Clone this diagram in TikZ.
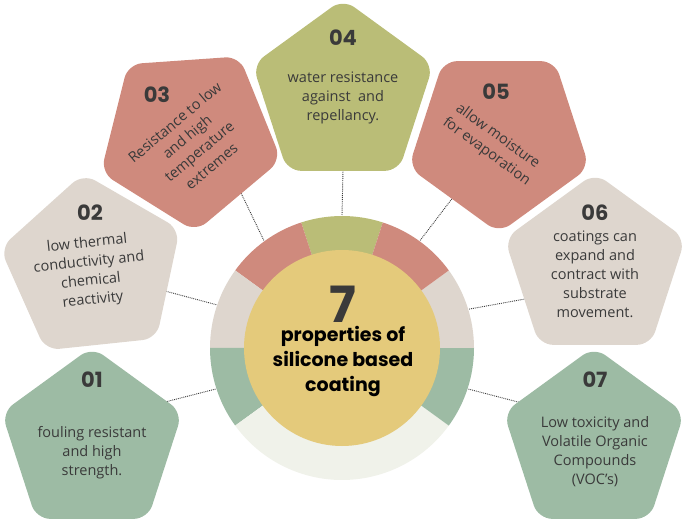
\documentclass[tikz,border=0pt]{standalone}
\usepackage{fontspec}
\setmainfont{Open Sans}
\newfontfamily\headfont{Poppins}
\usetikzlibrary{shapes.geometric,calc}

\definecolor{olive}{HTML}{BABD77}
\definecolor{rose}{HTML}{CF8A7D}
\definecolor{sand}{HTML}{DED6CE}
\definecolor{sage}{HTML}{9DBBA4}
\definecolor{pale}{HTML}{F0F2EA}
\definecolor{gold}{HTML}{E4CA7B}
\definecolor{ink}{HTML}{3A3A3A}

\begin{document}
\begin{tikzpicture}[x=1pt,y=1pt]
      \tikzset{Petal/.style = {regular polygon, regular polygon sides=5, minimum size=190pt, inner sep=0pt, rounded corners=14pt}}
      \tikzset{Num/.style = {font=\headfont\bfseries\fontsize{21}{21}\selectfont, text=ink}}
      \tikzset{Txt/.style = {align=center, font=\fontsize{14.5}{19}\selectfont, text=ink}}
      \tikzset{Link/.style = {densely dotted, line width=0.9pt, draw=ink, shorten >=-6pt}}

      \useasboundingbox (0,0) rectangle (685,525);
      \coordinate (Hub) at (342,177);

      % ring
      \foreach \a/\b/\col in {72/108/olive, 108/144/rose, 144/180/sand, 180/216/sage,
                              216/324/pale, 324/360/sage, 0/36/sand, 36/72/rose}
        \fill[\col] (Hub) -- ++(\a:132pt) arc[start angle=\a, end angle=\b, radius=132pt] -- cycle;
      \node[circle, fill=gold, minimum size=196pt, inner sep=0pt] (Core) at (Hub) {};
      \node[font=\headfont\bfseries\fontsize{50}{50}\selectfont, text=ink] (Seven) at (343,221) {7};
      \node[align=center, font=\headfont\bfseries\fontsize{19}{25}\selectfont, text=black] (Title) at (343,163)
        {properties of\\silicone based\\coating};

      % links
      \foreach \i/\a in {1/198, 2/161, 3/126, 4/90, 5/54, 6/17, 7/-18}
        \coordinate (R\i) at ($(Hub)+(\a:133pt)$);
      \coordinate (E1) at (165,123);
      \coordinate (E2) at (165,234);
      \coordinate (E3) at (242,330);
      \coordinate (E4) at (343,355);
      \coordinate (E5) at (451,325);
      \coordinate (E6) at (525,226);
      \coordinate (E7) at (518,123);
      \foreach \i in {1,...,7}
        \draw[Link] (R\i) -- (E\i);

      % petals
      \node[Petal, fill=sage] (P1) at (92,83) {};
      \node[Petal, fill=sand, shape border rotate=6] (P2) at (93,257) {};
      \node[Petal, fill=rose, shape border rotate=40] (P3) at (189,388) {};
      \node[Petal, fill=olive] (P4) at (343,431) {};
      \node[Petal, fill=rose, shape border rotate=-36] (P5) at (499,387) {};
      \node[Petal, fill=sand] (P6) at (595,257) {};
      \node[Petal, fill=sage] (P7) at (594,83) {};

      \node[Num] (N1) at (92,145) {01};
      \node[Num] (N2) at (90,312) {02};
      \node[Num] (N3) at (157,430) {03};
      \node[Num] (N4) at (343,487) {04};
      \node[Num] (N5) at (496,433) {05};
      \node[Num] (N6) at (595,312) {06};
      \node[Num] (N7) at (595,145) {07};

      \node[Txt] (T1) at (92,72) {fouling resistant\\and high\\strength.};
      \node[Txt, rotate=6] (T2) at (90,253) {low thermal\\conductivity and\\chemical\\reactivity};
      \node[Txt, rotate=40] (T3) at (193,381) {Resistance to low\\and high\\temperature\\extremes};
      \node[Txt] (T4) at (343,427) {water resistance\\against \ and\\repellancy.};
      \node[Txt, rotate=-36] (T5) at (492,381) {allow moisture\\for evaporation};
      \node[Txt] (T6) at (595,251) {coatings can\\expand and\\contract with\\substrate\\movement.};
      \node[Txt] (T7) at (595,73) {Low toxicity and\\Volatile Organic\\Compounds\\(VOC’s)};
\end{tikzpicture}
\end{document}
